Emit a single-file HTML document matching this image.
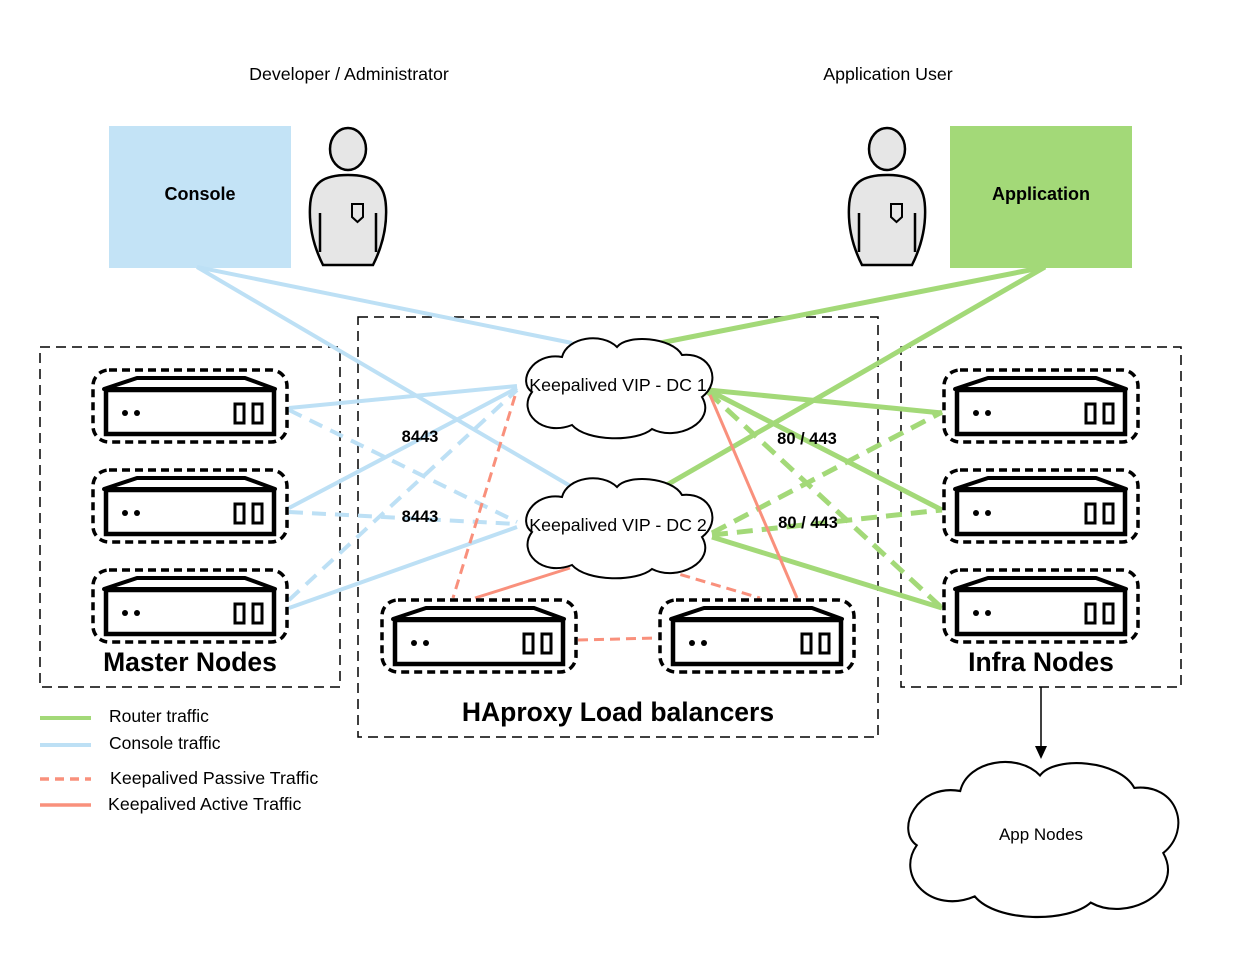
<!DOCTYPE html>
<html><head><meta charset="utf-8"><style>
html,body{margin:0;padding:0;background:#fff}
svg{display:block}
text{font-family:"Liberation Sans",sans-serif}
</style></head><body>
<svg width="1235" height="962" viewBox="0 0 1235 962" xmlns="http://www.w3.org/2000/svg">
<defs>
<g id="srv">
<rect x="2" y="2" width="194" height="72" rx="16" fill="#fff" stroke="#000" stroke-width="3.5" stroke-dasharray="8,5"/>
<path d="M13,21 L46,10 L154,10 L184,21 Z" fill="#fff" stroke="#000" stroke-width="4" stroke-linejoin="round"/>
<rect x="15" y="22" width="168" height="44" fill="#fff" stroke="#000" stroke-width="4.5"/>
<circle cx="34" cy="45" r="3" fill="#000"/><circle cx="46" cy="45" r="3" fill="#000"/>
<rect x="144" y="36" width="9" height="19" fill="none" stroke="#000" stroke-width="3"/>
<rect x="162" y="36" width="9" height="19" fill="none" stroke="#000" stroke-width="3"/>
</g>
<path id="cloud" d="M45,20 C15,15 0,45 15,55 C0,75 25,100 55,88 C70,105 120,105 135,92 C160,105 200,85 185,60 C205,45 195,15 165,18 C155,0 110,-3 100,10 C85,-5 50,0 45,20 Z"/>
<g id="person">
<ellipse cx="39" cy="22" rx="18" ry="21" fill="#e6e6e6" stroke="#000" stroke-width="2.5"/>
<path d="M14,138 C5,120 0,100 1,80 C2,55 15,48 39,48 C63,48 76,55 77,80 C78,100 73,120 64,138 Z" fill="#e6e6e6" stroke="#000" stroke-width="2.5"/>
<path d="M11,86 L11,125 M67,86 L67,125" stroke="#000" stroke-width="2.5"/>
<path d="M43,77 L54,77 L54,90 L48.5,95 L43,90 Z" fill="none" stroke="#000" stroke-width="2"/>
</g>
</defs>

<rect x="40" y="347" width="300" height="340" fill="none" stroke="#000" stroke-width="1.5" stroke-dasharray="10,6"/>
<rect x="358" y="317" width="520" height="420" fill="none" stroke="#000" stroke-width="1.5" stroke-dasharray="10,6"/>
<rect x="901" y="347" width="280" height="340" fill="none" stroke="#000" stroke-width="1.5" stroke-dasharray="10,6"/>

<text x="349" y="80" font-size="17.8" text-anchor="middle">Developer / Administrator</text>
<text x="888" y="80" font-size="17.8" text-anchor="middle">Application User</text>

<rect x="109" y="126" width="182" height="142" fill="#c3e3f6"/>
<text x="200" y="200" font-size="18" font-weight="bold" text-anchor="middle">Console</text>
<rect x="950" y="126" width="182" height="142" fill="#a3d978"/>
<text x="1041" y="200" font-size="18" font-weight="bold" text-anchor="middle">Application</text>

<use href="#person" x="309" y="127"/>
<use href="#person" x="848" y="127"/>

<g stroke="#bde0f5" stroke-width="4" fill="none">
<line x1="197" y1="267" x2="572" y2="343"/>
<line x1="197" y1="267" x2="572" y2="487"/>
<line x1="289" y1="408" x2="517" y2="386"/>
<line x1="289" y1="508" x2="517" y2="388"/>
<line x1="289" y1="608" x2="517" y2="527"/>
<g stroke-dasharray="14,9">
<line x1="289" y1="410" x2="517" y2="522"/>
<line x1="289" y1="512" x2="517" y2="524"/>
<line x1="289" y1="600" x2="517" y2="390"/>
</g>
</g>

<g stroke="#a3d978" stroke-width="5" fill="none">
<line x1="1045" y1="267" x2="660" y2="343"/>
<line x1="1045" y1="267" x2="665" y2="486"/>
<line x1="708" y1="390" x2="942" y2="413"/>
<line x1="708" y1="390" x2="942" y2="510"/>
<line x1="712" y1="537" x2="942" y2="608"/>
<g stroke-dasharray="16,9">
<line x1="708" y1="392" x2="942" y2="608"/>
<line x1="712" y1="533" x2="942" y2="412"/>
<line x1="712" y1="535" x2="942" y2="510"/>
</g>
</g>

<g stroke="#f9907c" stroke-width="3" fill="none">
<line x1="515" y1="396" x2="453" y2="598" stroke-dasharray="10,6"/>
<line x1="570" y1="568" x2="475" y2="598"/>
<line x1="710" y1="395" x2="797" y2="598"/>
<line x1="665" y1="570" x2="760" y2="598" stroke-dasharray="10,6"/>
<line x1="578" y1="640" x2="658" y2="638" stroke-dasharray="10,6"/>
</g>

<use href="#cloud" x="517" y="337" fill="#fff" stroke="#000" stroke-width="2"/>
<use href="#cloud" x="517" y="477" fill="#fff" stroke="#000" stroke-width="2"/>
<text x="618" y="391" font-size="17.8" text-anchor="middle">Keepalived VIP - DC 1</text>
<text x="618" y="531" font-size="17.8" text-anchor="middle">Keepalived VIP - DC 2</text>

<text x="420" y="442" font-size="16.5" font-weight="bold" text-anchor="middle">8443</text>
<text x="420" y="522" font-size="16.5" font-weight="bold" text-anchor="middle">8443</text>
<text x="807" y="444" font-size="16.5" font-weight="bold" text-anchor="middle">80 / 443</text>
<text x="808" y="528" font-size="16.5" font-weight="bold" text-anchor="middle">80 / 443</text>

<use href="#srv" x="91" y="368"/>
<use href="#srv" x="91" y="468"/>
<use href="#srv" x="91" y="568"/>
<use href="#srv" x="942" y="368"/>
<use href="#srv" x="942" y="468"/>
<use href="#srv" x="942" y="568"/>
<use href="#srv" x="380" y="598"/>
<use href="#srv" x="658" y="598"/>

<text x="190" y="671" font-size="26.5" font-weight="bold" text-anchor="middle">Master Nodes</text>
<text x="1041" y="671" font-size="26.5" font-weight="bold" text-anchor="middle">Infra Nodes</text>
<text x="618" y="721" font-size="26.5" font-weight="bold" text-anchor="middle">HAproxy Load balancers</text>

<line x1="1041" y1="687" x2="1041" y2="750" stroke="#000" stroke-width="1.5"/>
<path d="M1035,746 L1041,759 L1047,746 Z" fill="#000"/>

<use href="#cloud" transform="translate(895,760) scale(1.45,1.55)" fill="#fff" stroke="#000" stroke-width="1.4"/>
<text x="1041" y="840" font-size="17" text-anchor="middle">App Nodes</text>

<line x1="40" y1="718" x2="91" y2="718" stroke="#a3d978" stroke-width="4"/>
<text x="109" y="722" font-size="17.5">Router traffic</text>
<line x1="40" y1="745" x2="91" y2="745" stroke="#bde0f5" stroke-width="4"/>
<text x="109" y="749" font-size="17.5">Console traffic</text>
<line x1="40" y1="779" x2="91" y2="779" stroke="#f9907c" stroke-width="3.5" stroke-dasharray="9,6"/>
<text x="110" y="784" font-size="17.8">Keepalived Passive Traffic</text>
<line x1="40" y1="805" x2="91" y2="805" stroke="#f9907c" stroke-width="3.5"/>
<text x="108" y="810" font-size="17.8">Keepalived Active Traffic</text>
</svg>
</body></html>
